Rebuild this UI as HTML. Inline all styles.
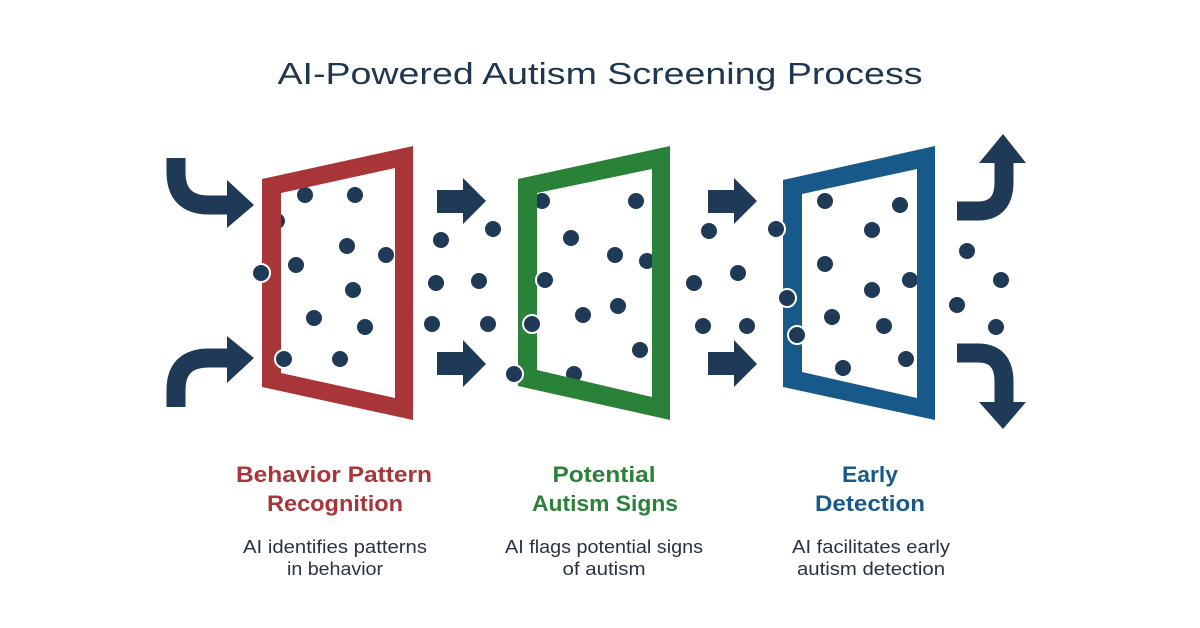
<!DOCTYPE html>
<html><head><meta charset="utf-8"><style>
html,body{margin:0;padding:0;background:#fff;}
svg{display:block;font-family:"Liberation Sans",sans-serif;}
</style></head><body>
<svg width="1200" height="628" viewBox="0 0 1200 628" xmlns="http://www.w3.org/2000/svg">
<rect width="1200" height="628" fill="#fff"/>
<text x="600" y="84" text-anchor="middle" font-size="31" fill="#1f3650" textLength="645" lengthAdjust="spacingAndGlyphs">AI-Powered Autism Screening Process</text>

<g fill="#1f3a57">
<circle cx="305" cy="195" r="8"/><circle cx="355" cy="195" r="8"/><circle cx="277" cy="221" r="8"/>
<circle cx="347" cy="246" r="8"/><circle cx="386" cy="255" r="8"/><circle cx="296" cy="265" r="8"/>
<circle cx="353" cy="290" r="8"/><circle cx="314" cy="318" r="8"/><circle cx="365" cy="327" r="8"/>
<circle cx="340" cy="359" r="8"/>
<circle cx="441" cy="240" r="8"/><circle cx="493" cy="229" r="8"/><circle cx="436" cy="283" r="8"/>
<circle cx="479" cy="281" r="8"/><circle cx="432" cy="324" r="8"/><circle cx="488" cy="324" r="8"/>
<circle cx="542" cy="201" r="8"/><circle cx="636" cy="201" r="8"/><circle cx="571" cy="238" r="8"/>
<circle cx="615" cy="255" r="8"/><circle cx="647" cy="261" r="8"/><circle cx="583" cy="315" r="8"/>
<circle cx="618" cy="306" r="8"/><circle cx="640" cy="350" r="8"/><circle cx="574" cy="374" r="8"/>
<circle cx="709" cy="231" r="8"/><circle cx="694" cy="283" r="8"/><circle cx="738" cy="273" r="8"/>
<circle cx="703" cy="326" r="8"/><circle cx="747" cy="326" r="8"/>
<circle cx="825" cy="201" r="8"/><circle cx="900" cy="205" r="8"/><circle cx="872" cy="230" r="8"/>
<circle cx="825" cy="264" r="8"/><circle cx="910" cy="280" r="8"/><circle cx="872" cy="290" r="8"/>
<circle cx="832" cy="317" r="8"/><circle cx="884" cy="326" r="8"/><circle cx="906" cy="359" r="8"/>
<circle cx="843" cy="368" r="8"/>
<circle cx="967" cy="251" r="8"/><circle cx="1001" cy="280" r="8"/><circle cx="957" cy="305" r="8"/><circle cx="996" cy="327" r="8"/>
</g>

<path fill-rule="evenodd" fill="#a83639" d="M262,179 L413,146 L413,420 L262,387 Z M281,193 L281,373 L395,398 L395,168 Z"/>
<path fill-rule="evenodd" fill="#2a8138" d="M518,179 L670,146 L670,420 L518,386 Z M537,193 L537,370 L652,397 L652,169 Z"/>
<path fill-rule="evenodd" fill="#175a8a" d="M783,180 L935,146 L935,420 L783,387 Z M802,194 L802,372 L917,398 L917,169 Z"/>

<g fill="#1f3a57" stroke="#fff" stroke-width="2">
<circle cx="261" cy="273" r="9"/><circle cx="284" cy="359" r="9"/>
<circle cx="545" cy="280" r="9"/><circle cx="532" cy="324" r="9"/><circle cx="514" cy="374" r="9"/>
<circle cx="776" cy="229" r="9"/><circle cx="787" cy="298" r="9"/><circle cx="797" cy="335" r="9"/>
</g>

<g fill="none" stroke="#1f3a57" stroke-width="19">
<path d="M176,158 V172 Q176,205 209,205 H230"/>
<path d="M176,407 V390 Q176,358 209,358 H230"/>
<path d="M957,211 H978 Q1004,211 1004,182 V160"/>
<path d="M957,353 H978 Q1004,353 1004,382 V405"/>
</g>
<g fill="#1f3a57">
<polygon points="227,180 254,205 227,228"/>
<polygon points="227,336 254,358 227,383"/>
<polygon points="979,163 1003,134 1026,163"/>
<polygon points="979,402 1003,429 1026,402"/>
<polygon points="437,190 463,190 463,178 486,201 463,224 463,213 437,213"/>
<polygon points="437,352 463,352 463,340 486,364 463,387 463,375 437,375"/>
<polygon points="708,190 734,190 734,178 757,201 734,224 734,213 708,213"/>
<polygon points="708,352 734,352 734,340 757,364 734,387 734,375 708,375"/>
</g>

<g font-weight="bold" font-size="22" text-anchor="middle" lengthAdjust="spacingAndGlyphs">
<text x="334" y="482" fill="#a83639" textLength="196" lengthAdjust="spacingAndGlyphs">Behavior Pattern</text>
<text x="335" y="511" fill="#a83639" textLength="136" lengthAdjust="spacingAndGlyphs">Recognition</text>
<text x="604" y="482" fill="#2a8138" textLength="103" lengthAdjust="spacingAndGlyphs">Potential</text>
<text x="605" y="511" fill="#2a8138" textLength="146" lengthAdjust="spacingAndGlyphs">Autism Signs</text>
<text x="870" y="482" fill="#175a8a" textLength="56" lengthAdjust="spacingAndGlyphs">Early</text>
<text x="870" y="511" fill="#175a8a" textLength="110" lengthAdjust="spacingAndGlyphs">Detection</text>
</g>
<g font-size="18" text-anchor="middle" fill="#2a3340">
<text x="335" y="553" textLength="184" lengthAdjust="spacingAndGlyphs">AI identifies patterns</text>
<text x="335" y="575" textLength="96" lengthAdjust="spacingAndGlyphs">in behavior</text>
<text x="604" y="553" textLength="198" lengthAdjust="spacingAndGlyphs">AI flags potential signs</text>
<text x="604" y="575" textLength="83" lengthAdjust="spacingAndGlyphs">of autism</text>
<text x="871" y="553" textLength="158" lengthAdjust="spacingAndGlyphs">AI facilitates early</text>
<text x="871" y="575" textLength="148" lengthAdjust="spacingAndGlyphs">autism detection</text>
</g>
</svg>
</body></html>
